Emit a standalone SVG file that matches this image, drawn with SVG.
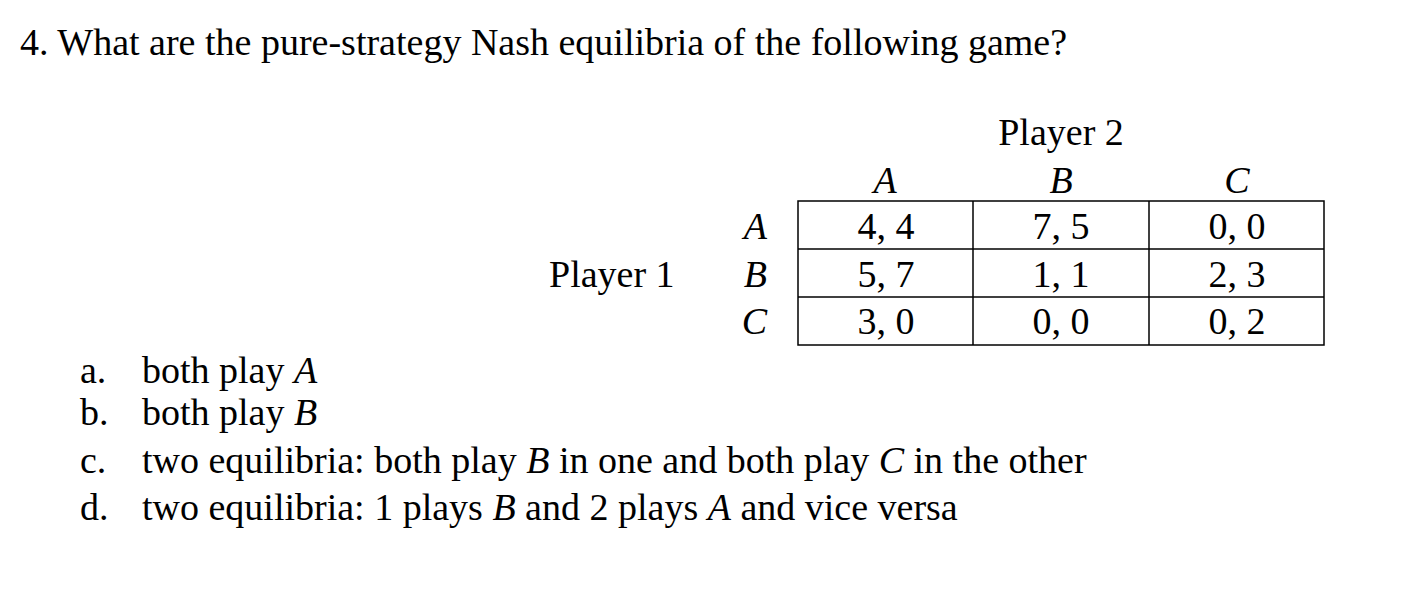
<svg xmlns="http://www.w3.org/2000/svg" width="1422" height="590" viewBox="0 0 1422 590">
<style>
text{font-family:"Liberation Serif","Times New Roman",serif;font-size:38px;fill:#000}
.i{font-style:italic}
.m{text-anchor:middle}
.r{text-anchor:end}
line,rect{stroke:#000;stroke-width:1.5;fill:none}
</style>
<rect width="1422" height="590" fill="#fff" style="stroke:none"/>
<text x="20" y="55">4. What are the pure-strategy Nash equilibria of the following game?</text>
<g id="table">
<rect x="798" y="201" width="526" height="144"/>
<line x1="973" y1="201" x2="973" y2="345"/>
<line x1="1149" y1="201" x2="1149" y2="345"/>
<line x1="798" y1="249" x2="1324" y2="249"/>
<line x1="798" y1="297" x2="1324" y2="297"/>
<text class="m" x="1061" y="145">Player 2</text>
<text class="m i" x="885" y="193">A</text>
<text class="m i" x="1061" y="193">B</text>
<text class="m i" x="1237" y="193">C</text>
<text x="549" y="287">Player 1</text>
<text class="r i" x="767" y="239">A</text>
<text class="r i" x="767" y="287">B</text>
<text class="r i" x="767" y="334">C</text>
<text class="m" x="886" y="239">4, 4</text>
<text class="m" x="1061" y="239">7, 5</text>
<text class="m" x="1237" y="239">0, 0</text>
<text class="m" x="886" y="287">5, 7</text>
<text class="m" x="1061" y="287">1, 1</text>
<text class="m" x="1237" y="287">2, 3</text>
<text class="m" x="886" y="334">3, 0</text>
<text class="m" x="1061" y="334">0, 0</text>
<text class="m" x="1237" y="334">0, 2</text>
</g>
<g id="options">
<text x="80" y="383">a.</text><text x="142" y="383">both play <tspan class="i">A</tspan></text>
<text x="80" y="425">b.</text><text x="142" y="425">both play <tspan class="i">B</tspan></text>
<text x="80" y="473">c.</text><text x="142" y="473">two equilibria: both play <tspan class="i">B</tspan> in one and both play <tspan class="i">C</tspan> in the other</text>
<text x="80" y="520">d.</text><text x="142" y="520">two equilibria: 1 plays <tspan class="i">B</tspan> and 2 plays <tspan class="i">A</tspan> and vice versa</text>
</g>
</svg>
